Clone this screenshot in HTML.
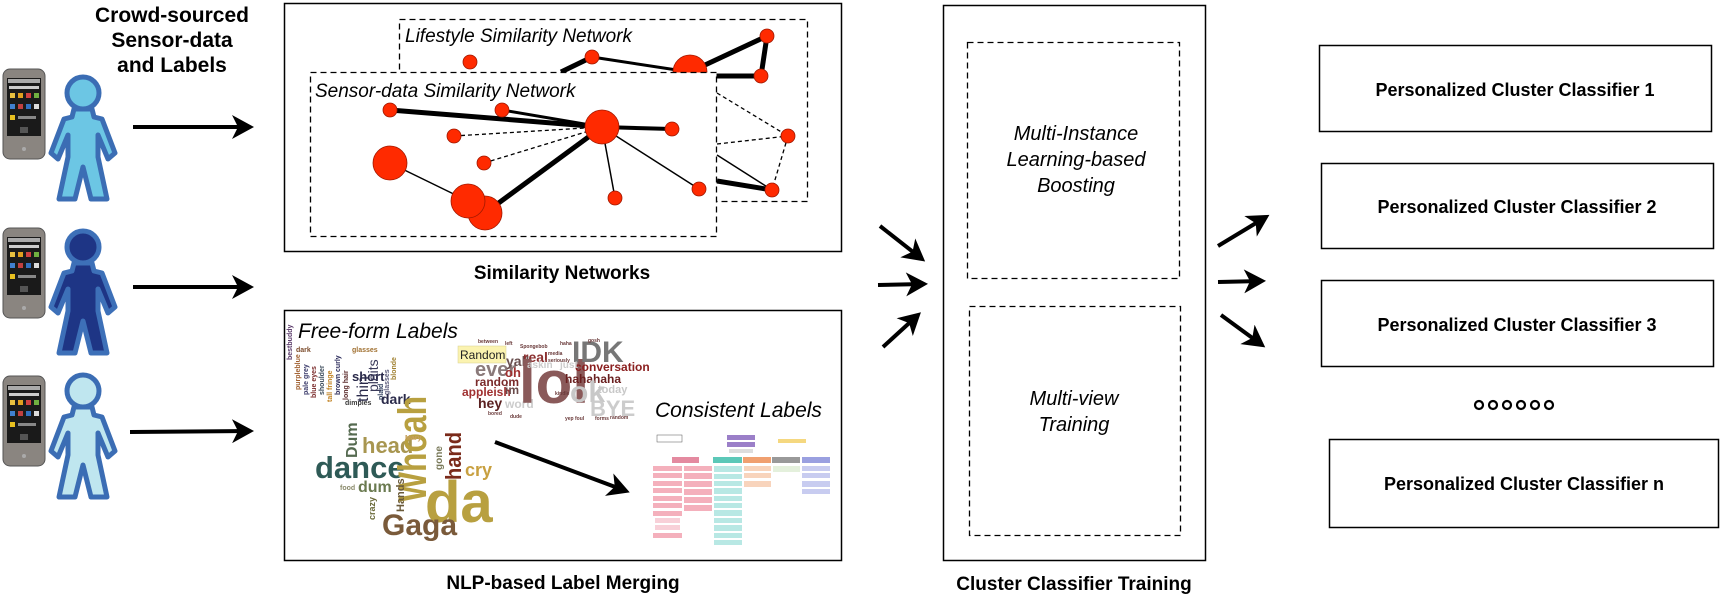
<!DOCTYPE html>
<html><head><meta charset="utf-8"><style>
html,body{margin:0;padding:0;background:#fff;}
svg{display:block;}
text{font-family:"Liberation Sans",Arial,sans-serif;}
.b{font-weight:bold;fill:#000;}
.i{font-style:italic;fill:#000;}
</style></head><body>
<svg width="1724" height="596" viewBox="0 0 1724 596" xmlns="http://www.w3.org/2000/svg">
<defs>
<marker id="ah" markerWidth="6" markerHeight="6" refX="4.5" refY="3" orient="auto" markerUnits="strokeWidth">
<path d="M0,0 L5.5,3 L0,6 L1.5,3 Z" fill="#000"/>
</marker>
<g id="person">
<path d="M26,34 L24,42 L16,44 L3,78 L10,84 L20,60 L20,82 L11,124 L27,124 L35,92 L43,124 L59,124 L50,82 L50,60 L60,84 L67,78 L54,44 L46,42 L44,34 Z" stroke-width="5" stroke-linejoin="round"/>
<circle cx="35" cy="18" r="16" stroke-width="5"/>
</g>
<g id="phone">
<rect x="0" y="0" width="42" height="90" rx="7" fill="#8a8580" stroke="#555" stroke-width="1"/>
<rect x="4" y="9" width="34" height="58" fill="#1a1a1a"/>
<rect x="5" y="10" width="32" height="4" fill="#aaa"/>
<rect x="6" y="17" width="30" height="3" fill="#ccc"/>
<rect x="7" y="24" width="5" height="5" fill="#e8c040"/><rect x="15" y="24" width="5" height="5" fill="#e0a020"/><rect x="23" y="24" width="5" height="5" fill="#d04040"/><rect x="31" y="24" width="5" height="5" fill="#70b040"/>
<rect x="7" y="35" width="5" height="5" fill="#4080d0"/><rect x="15" y="35" width="5" height="5" fill="#c04040"/><rect x="23" y="35" width="5" height="5" fill="#3070c0"/><rect x="31" y="35" width="5" height="5" fill="#ddd"/>
<rect x="7" y="46" width="5" height="5" fill="#e8c020"/><rect x="15" y="47" width="18" height="3" fill="#888"/>
<rect x="17" y="58" width="8" height="6" fill="#555"/>
<circle cx="21" cy="80" r="2" fill="#aaa"/>
</g>
</defs>

<text class="b" x="172" y="22" font-size="21" text-anchor="middle">Crowd-sourced</text>
<text class="b" x="172" y="47" font-size="21" text-anchor="middle">Sensor-data</text>
<text class="b" x="172" y="72" font-size="21" text-anchor="middle">and Labels</text>

<use href="#phone" x="3" y="69"/>
<use href="#phone" x="3" y="228"/>
<use href="#phone" x="3" y="376"/>
<use href="#person" x="48" y="75" fill="#6cc6e4" stroke="#3b6db4"/>
<use href="#person" x="48" y="229" fill="#1e3585" stroke="#3d70b8"/>
<use href="#person" x="48" y="373" fill="#bfe6ef" stroke="#3b6db4"/>

<g stroke="#000" stroke-width="4" fill="none">
<line x1="133" y1="127" x2="250" y2="127" marker-end="url(#ah)"/>
<line x1="133" y1="287" x2="250" y2="287" marker-end="url(#ah)"/>
<line x1="130" y1="432" x2="250" y2="431" marker-end="url(#ah)"/>
</g>

<rect x="284.5" y="3.5" width="557" height="248" fill="#fff" stroke="#000" stroke-width="1.5"/>
<rect x="399.5" y="19.5" width="408" height="182" fill="#fff" stroke="#000" stroke-width="1.3" stroke-dasharray="6,4"/>
<text class="i" x="405" y="42" font-size="19">Lifestyle Similarity Network</text>
<g stroke="#000" fill="none">
<line x1="561" y1="72" x2="592" y2="57" stroke-width="5"/>
<line x1="592" y1="57" x2="690" y2="72" stroke-width="3"/>
<line x1="690" y1="72" x2="767" y2="36" stroke-width="5"/>
<line x1="767" y1="36" x2="761" y2="76" stroke-width="5"/>
<line x1="700" y1="76" x2="761" y2="76" stroke-width="5"/>
<line x1="717" y1="93" x2="788" y2="136" stroke-width="1.3" stroke-dasharray="4,3"/>
<line x1="717" y1="144" x2="788" y2="136" stroke-width="1.3" stroke-dasharray="4,3"/>
<line x1="788" y1="136" x2="772" y2="190" stroke-width="1.3" stroke-dasharray="4,3"/>
<line x1="717" y1="155" x2="772" y2="190" stroke-width="1.5"/>
<line x1="717" y1="181" x2="772" y2="190" stroke-width="5"/>
</g>
<g fill="#ff2a00" stroke="#a01800" stroke-width="0.8">
<circle cx="470" cy="62" r="7"/><circle cx="592" cy="57" r="7"/><circle cx="690" cy="72" r="17"/>
<circle cx="767" cy="36" r="7"/><circle cx="761" cy="76" r="7"/><circle cx="788" cy="136" r="7"/><circle cx="772" cy="190" r="7"/>
</g>
<rect x="310.5" y="72.5" width="406" height="164" fill="#fff" stroke="#000" stroke-width="1.3" stroke-dasharray="6,4"/>
<text class="i" x="315" y="97" font-size="19">Sensor-data Similarity Network</text>
<g stroke="#000" fill="none">
<line x1="390" y1="110" x2="602" y2="127" stroke-width="5"/>
<line x1="502" y1="110" x2="602" y2="127" stroke-width="3"/>
<line x1="602" y1="127" x2="672" y2="129" stroke-width="4"/>
<line x1="454" y1="136" x2="602" y2="127" stroke-width="1.3" stroke-dasharray="4,3"/>
<line x1="484" y1="163" x2="602" y2="127" stroke-width="1.3" stroke-dasharray="4,3"/>
<line x1="390" y1="163" x2="468" y2="201" stroke-width="1.5"/>
<line x1="485" y1="213" x2="602" y2="127" stroke-width="5"/>
<line x1="602" y1="127" x2="615" y2="198" stroke-width="1.5"/>
<line x1="602" y1="127" x2="699" y2="189" stroke-width="1.5"/>
</g>
<g fill="#ff2a00" stroke="#a01800" stroke-width="0.8">
<circle cx="390" cy="110" r="7"/><circle cx="502" cy="110" r="7"/><circle cx="602" cy="127" r="17"/>
<circle cx="672" cy="129" r="7"/><circle cx="454" cy="136" r="7"/><circle cx="484" cy="163" r="7"/>
<circle cx="390" cy="163" r="17"/><circle cx="485" cy="213" r="17"/><circle cx="468" cy="201" r="17"/>
<circle cx="615" cy="198" r="7"/><circle cx="699" cy="189" r="7"/>
</g>
<text class="b" x="562" y="279" font-size="19" text-anchor="middle">Similarity Networks</text>

<rect x="284.5" y="310.5" width="557" height="250" fill="#fff" stroke="#000" stroke-width="1.5"/>
<text class="i" x="298" y="338" font-size="21">Free-form Labels</text>
<g font-size="7" font-weight="bold">
<text x="292" y="360" fill="#5a3a6a" transform="rotate(-90 292 360)">bestbuddy</text>
<text x="300" y="390" fill="#a06030" transform="rotate(-90 300 390)">purpleblue</text>
<text x="308" y="395" fill="#3a3a6a" transform="rotate(-90 308 395)">pale grey</text>
<text x="316" y="398" fill="#7a2a2a" transform="rotate(-90 316 398)">blue eyes</text>
<text x="324" y="395" fill="#3a4a5a" transform="rotate(-90 324 395)">shoulder</text>
<text x="332" y="402" fill="#c08020" transform="rotate(-90 332 402)">tall fringe</text>
<text x="340" y="395" fill="#2a2a5a" transform="rotate(-90 340 395)">brown curly</text>
<text x="348" y="400" fill="#5a2a2a" transform="rotate(-90 348 400)">long hair</text>
<text x="383" y="400" fill="#2a3a5a" transform="rotate(-90 383 400)">plaid</text>
<text x="389" y="395" fill="#5a5a7a" transform="rotate(-90 389 395)">glasses</text>
<text x="396" y="380" fill="#a08030" transform="rotate(-90 396 380)">blonde</text>
<text x="296" y="352" fill="#7a4a2a">dark</text>
<text x="352" y="352" fill="#a07030">glasses</text>
<text x="345" y="405" fill="#3a3a3a">dimples</text>
</g>
<text x="352" y="381" font-size="13" font-weight="bold" fill="#2a2a4a">short</text>
<text x="368" y="402" font-size="16" fill="#2a2a4a" transform="rotate(-90 368 402)">thin</text>
<text x="378" y="392" font-size="14" fill="#3a3a5a" transform="rotate(-90 378 392)">plaits</text>
<text x="381" y="404" font-size="14" font-weight="bold" fill="#2a2a4a">dark</text>
<g font-weight="bold">
<text x="315" y="478" font-size="31" fill="#2e5a56">dance</text>
<text x="362" y="453" font-size="22" fill="#a89650">head</text>
<text x="358" y="492" font-size="16" fill="#6a7a50">dum</text>
<text x="357" y="458" font-size="16" fill="#556a50" transform="rotate(-90 357 458)">Dum</text>
<text x="426" y="502" font-size="40" fill="#b8a040" textLength="106" lengthAdjust="spacingAndGlyphs" transform="rotate(-90 426 502)">Whoah</text>
<text x="425" y="522" font-size="58" fill="#b8a040">da</text>
<text x="382" y="535" font-size="30" fill="#7a5a3a">Gaga</text>
<text x="461" y="480" font-size="22" fill="#7a2a1a" textLength="48" lengthAdjust="spacingAndGlyphs" transform="rotate(-90 461 480)">hand</text>
<text x="465" y="476" font-size="18" fill="#c8a040">cry</text>
<text x="404" y="512" font-size="11" fill="#6a5a3a" transform="rotate(-90 404 512)">Hands</text>
<text x="375" y="520" font-size="9" fill="#6a6a3a" transform="rotate(-90 375 520)">crazy</text>
<text x="442" y="470" font-size="10" fill="#7a7a5a" transform="rotate(-90 442 470)">gone</text>
<text x="405" y="440" font-size="7" fill="#c8a060">Mary</text>
<text x="340" y="490" font-size="7" fill="#8a8a6a">food</text>
</g>
<g font-weight="bold">
<rect x="458" y="346" width="48" height="17" fill="#fbf3b0" stroke="#d8d090" stroke-width="0.5"/>
<text x="460" y="359" font-size="12" fill="#222" font-weight="normal">Random</text>
<text x="475" y="376" font-size="20" fill="#8a7a7a">ever</text>
<text x="506" y="366" font-size="14" fill="#6a5050">yall</text>
<text x="523" y="362" font-size="14" fill="#8b3030">real</text>
<text x="505" y="377" font-size="13" fill="#a03030">oh</text>
<text x="475" y="386" font-size="12" fill="#7a2a2a">random</text>
<text x="462" y="396" font-size="12" fill="#a03030">appleish</text>
<text x="505" y="394" font-size="12" fill="#6a4a4a">im</text>
<text x="478" y="408" font-size="14" fill="#5a2020">hey</text>
<text x="505" y="408" font-size="12" fill="#ccc">word</text>
<text x="519" y="403" font-size="60" fill="#8a5a5a">lol</text>
<text x="572" y="362" font-size="30" fill="#777">IDK</text>
<text x="575" y="371" font-size="12" fill="#8b2020">conversation</text>
<text x="565" y="383" font-size="12" fill="#6a2020">hahahaha</text>
<text x="570" y="402" font-size="30" fill="#c8c8c8">ok</text>
<text x="598" y="393" font-size="11" fill="#c8c8c8">today</text>
<text x="590" y="416" font-size="22" fill="#ccc">BYE</text>
<text x="527" y="368" font-size="10" fill="#ccc">askin</text>
<text x="560" y="368" font-size="10" fill="#ccc">just</text>
<g font-size="5" fill="#6a3a3a">
<text x="478" y="343">between</text><text x="505" y="345">left</text><text x="520" y="348">Spongebob</text>
<text x="560" y="345">haha</text><text x="588" y="342">gosh</text><text x="548" y="355">media</text>
<text x="548" y="362">seriously</text><text x="488" y="415">bored</text><text x="510" y="418">dude</text>
<text x="565" y="420">yep</text><text x="575" y="420">foul</text><text x="595" y="420">forms</text>
<text x="610" y="419">random</text><text x="555" y="395">kindle</text>
</g>
</g>
<line x1="495" y1="442" x2="626" y2="491" stroke="#000" stroke-width="4" marker-end="url(#ah)"/>
<text class="i" x="655" y="417" font-size="21">Consistent Labels</text>
<g stroke="none">
<rect x="657" y="435" width="25" height="7" fill="#fff" stroke="#555" stroke-width="0.5"/>
<rect x="727" y="435" width="28" height="5" fill="#9b7fc8"/>
<rect x="727" y="442" width="28" height="5" fill="#9b7fc8"/>
<rect x="729" y="449" width="24" height="4" fill="#ddd"/>
<rect x="778" y="439" width="28" height="4" fill="#f5d880"/>
<rect x="672" y="457" width="27" height="6" fill="#e48aa0"/>
<rect x="713" y="457" width="29" height="6" fill="#5cc8b8"/>
<rect x="743" y="457" width="28" height="6" fill="#f0a070"/>
<rect x="772" y="457" width="28" height="6" fill="#999"/>
<rect x="802" y="457" width="28" height="6" fill="#9aa0e0"/>
<g fill="#f4b0bc">
<rect x="653" y="466" width="29" height="5"/><rect x="653" y="473" width="29" height="5"/><rect x="653" y="481" width="29" height="5"/><rect x="653" y="488" width="29" height="5"/><rect x="653" y="496" width="29" height="5"/><rect x="653" y="503" width="29" height="5"/><rect x="653" y="511" width="29" height="5"/><rect x="655" y="518" width="25" height="5" fill="#f8d0d8"/><rect x="655" y="525" width="25" height="5" fill="#f8d0d8"/><rect x="653" y="533" width="29" height="5"/>
<rect x="684" y="466" width="28" height="5"/><rect x="684" y="473" width="28" height="6"/><rect x="684" y="481" width="28" height="6"/><rect x="684" y="489" width="28" height="6"/><rect x="684" y="497" width="28" height="6"/><rect x="684" y="505" width="28" height="6"/>
</g>
<g fill="#b8e8e4">
<rect x="714" y="466" width="28" height="6"/><rect x="714" y="474" width="28" height="5"/><rect x="714" y="481" width="28" height="5"/><rect x="714" y="488" width="28" height="6"/><rect x="714" y="496" width="28" height="5"/><rect x="714" y="503" width="28" height="5"/><rect x="714" y="510" width="28" height="6"/><rect x="714" y="518" width="28" height="5"/><rect x="714" y="525" width="28" height="6"/><rect x="714" y="533" width="28" height="5"/><rect x="714" y="540" width="28" height="5"/>
</g>
<g fill="#f8d4bc"><rect x="744" y="466" width="27" height="5"/><rect x="744" y="473" width="27" height="5"/><rect x="744" y="481" width="27" height="6"/></g>
<rect x="773" y="466" width="27" height="6" fill="#e4f0dc"/>
<g fill="#c8ccf0"><rect x="802" y="466" width="28" height="5"/><rect x="802" y="473" width="28" height="5"/><rect x="802" y="481" width="28" height="6"/><rect x="802" y="489" width="28" height="5"/></g>
</g>
<text class="b" x="563" y="589" font-size="19" text-anchor="middle">NLP-based Label Merging</text>

<g stroke="#000" stroke-width="4" fill="none">
<line x1="880" y1="226" x2="922" y2="259" marker-end="url(#ah)"/>
<line x1="878" y1="285" x2="924" y2="284" marker-end="url(#ah)"/>
<line x1="883" y1="347" x2="918" y2="315" marker-end="url(#ah)"/>
</g>

<rect x="943.5" y="5.5" width="262" height="555" fill="#fff" stroke="#000" stroke-width="1.5"/>
<rect x="967.5" y="42.5" width="212" height="236" fill="none" stroke="#000" stroke-width="1.3" stroke-dasharray="6,4"/>
<rect x="969.5" y="306.5" width="211" height="229" fill="none" stroke="#000" stroke-width="1.3" stroke-dasharray="6,4"/>
<g font-size="20" text-anchor="middle">
<text class="i" x="1076" y="140">Multi-Instance</text>
<text class="i" x="1076" y="166">Learning-based</text>
<text class="i" x="1076" y="192">Boosting</text>
<text class="i" x="1074" y="405">Multi-view</text>
<text class="i" x="1074" y="431">Training</text>
</g>
<text class="b" x="1074" y="590" font-size="19" text-anchor="middle">Cluster Classifier Training</text>

<g stroke="#000" stroke-width="4" fill="none">
<line x1="1218" y1="246" x2="1266" y2="217" marker-end="url(#ah)"/>
<line x1="1218" y1="282" x2="1262" y2="281" marker-end="url(#ah)"/>
<line x1="1221" y1="315" x2="1262" y2="345" marker-end="url(#ah)"/>
</g>

<g fill="#fff" stroke="#000" stroke-width="1.5">
<rect x="1319.5" y="45.5" width="392" height="86"/>
<rect x="1321.5" y="163.5" width="392" height="85"/>
<rect x="1321.5" y="280.5" width="392" height="86"/>
<rect x="1329.5" y="439.5" width="389" height="88"/>
</g>
<g font-size="18" text-anchor="middle">
<text class="b" x="1515" y="96">Personalized Cluster Classifier 1</text>
<text class="b" x="1517" y="213">Personalized Cluster Classifier 2</text>
<text class="b" x="1517" y="331">Personalized Cluster Classifier 3</text>
<text class="b" x="1524" y="490">Personalized Cluster Classifier n</text>
</g>
<g fill="none" stroke="#000" stroke-width="2.2">
<circle cx="1479" cy="405" r="4"/><circle cx="1493" cy="405" r="4"/><circle cx="1507" cy="405" r="4"/>
<circle cx="1521" cy="405" r="4"/><circle cx="1535" cy="405" r="4"/><circle cx="1549" cy="405" r="4"/>
</g>
</svg>
</body></html>
